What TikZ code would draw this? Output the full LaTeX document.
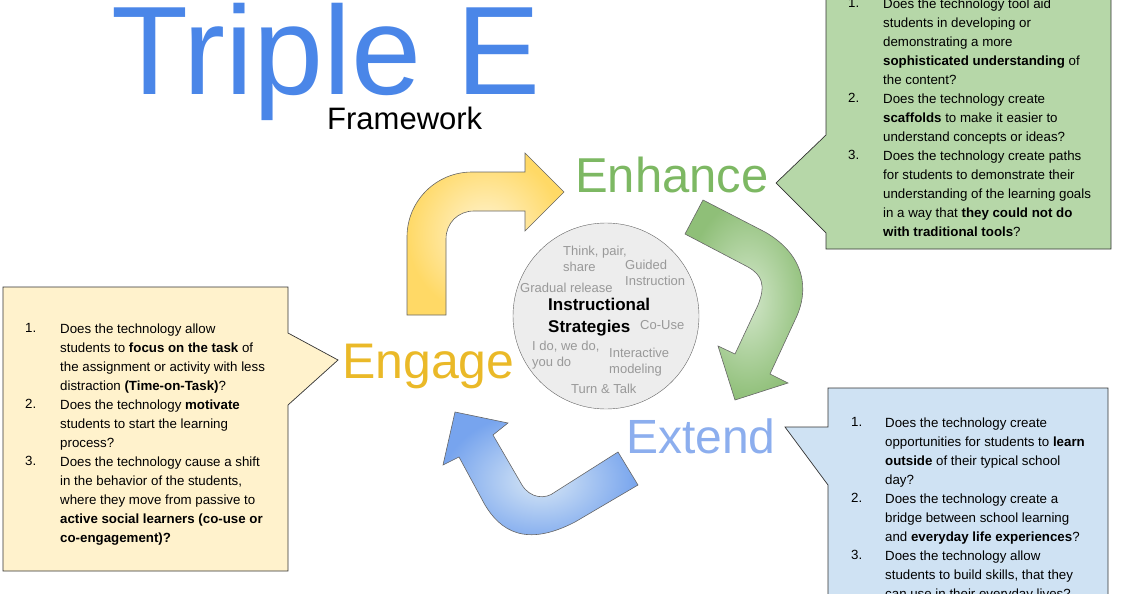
\documentclass[tikz,border=0pt]{standalone}
\usepackage{fontspec}
\setmainfont{Liberation Sans}
\begin{document}
\begin{tikzpicture}[x=1pt,y=-1pt,
  qtext/.style={anchor=north west,inner sep=0pt,align=left,font=\fontsize{13.3}{19}\selectfont},
  ctext/.style={anchor=west,inner sep=0pt,align=left,text=black!40,font=\fontsize{13}{16}\selectfont},
  callout/.style={draw=black!80,line width=0.7pt},
  bigarrow/.style={draw=black!60,line width=0.6pt},
  word/.style={inner sep=0pt,anchor=base west,font=\fontsize{50}{50}\selectfont}]
\definecolor{tblue}{HTML}{4A86E8}
\definecolor{gfill}{HTML}{B6D7A8}
\definecolor{yfill}{HTML}{FFF2CC}
\definecolor{bfill}{HTML}{CFE2F3}
\definecolor{genh}{HTML}{7DB863}
\definecolor{yeng}{HTML}{EAB928}
\definecolor{bext}{HTML}{8CAEEE}
\definecolor{yarr}{HTML}{FFD966}
\definecolor{garr}{HTML}{8FBF78}
\useasboundingbox (0,0) rectangle (1130,594);
\clip (0,0) rectangle (1130,594);
% title
\node[inner sep=0pt,anchor=base west,text=tblue,font=\fontsize{126}{126}\selectfont] (title) at (111,94) {Triple E};
\node[inner sep=0pt,anchor=base west,font=\fontsize{31}{31}\selectfont] (fw) at (327,129) {Framework};
% callouts
\path[callout,fill=gfill] (826,-5) -- (1111,-5) -- (1111,249) -- (826,249) -- (826,233) -- (776,183) -- (826,135) -- cycle;
\path[callout,fill=yfill] (3,287) -- (288,287) -- (288,333) -- (338,360) -- (288,405) -- (288,571) -- (3,571) -- cycle;
\path[callout,fill=bfill] (828,388) -- (1108,388) -- (1108,600) -- (828,600) -- (828,485) -- (785,427) -- (828,427) -- cycle;
% green text
\node[qtext] (gn) at (848,-1.5) {1.\\~\\~\\~\\~\\2.\\~\\~\\3.};
\node[qtext] (gt) at (883,-1.5) {Does the technology tool aid\\students in developing or\\demonstrating a more\\\textbf{sophisticated understanding} of\\the content?\\Does the technology create\\\textbf{scaffolds} to make it easier to\\understand concepts or ideas?\\Does the technology create paths\\for students to demonstrate their\\understanding of the learning goals\\in a way that \textbf{they could not do}\\\textbf{with traditional tools}?};
% yellow text
\node[qtext] (yn) at (25,323.5) {1.\\~\\~\\~\\2.\\~\\~\\3.};
\node[qtext] (yt) at (60,323.5) {Does the technology allow\\students to \textbf{focus on the task} of\\the assignment or activity with less\\distraction \textbf{(Time-on-Task)}?\\Does the technology \textbf{motivate}\\students to start the learning\\process?\\Does the technology cause a shift\\in the behavior of the students,\\where they move from passive to\\\textbf{active social learners (co-use or}\\\textbf{co-engagement)?}};
% blue text
\node[qtext] (bn) at (851,417.5) {1.\\~\\~\\~\\2.\\~\\~\\3.};
\node[qtext] (bt) at (885,417.5) {Does the technology create\\opportunities for students to \textbf{learn}\\\textbf{outside} of their typical school\\day?\\Does the technology create a\\bridge between school learning\\and \textbf{everyday life experiences}?\\Does the technology allow\\students to build skills, that they\\can use in their everyday lives?};
% arrows
\path[bigarrow,inner color=yfill!80,outer color=yarr] (407,315) -- (407,237) .. controls (407,201) and (436,172) .. (472,172) -- (525,172) -- (525,153) -- (564,192) -- (525,231) -- (525,211) -- (474,211) .. controls (458,211) and (446,223) .. (446,239) -- (446,315) -- cycle;
\path[bigarrow,inner color=gfill!60,outer color=garr] (703,200) -- (765,232) .. controls (805,255) and (810,290) .. (795,320) -- (770,374) -- (788,383) -- (735,400) -- (718,346) -- (735,354) -- (758,305) .. controls (766,285) and (762,275) .. (748,267) -- (685,234) -- cycle;
\path[bigarrow,inner color=bfill!80,outer color=tblue!75] (638,485) -- (575,522) .. controls (525,548) and (500,530) .. (485,505) -- (459,457) -- (443,465) -- (455,412) -- (508,423) -- (493,435) -- (522,485) .. controls (530,498) and (545,500) .. (555,492) -- (618,452) -- cycle;
% words
\node[word,text=genh,font=\fontsize{49}{49}\selectfont] (enh) at (575,192) {Enhance};
\node[word,text=yeng] (eng) at (342,378) {Engage};
\node[word,text=bext,font=\fontsize{48}{48}\selectfont] (ext) at (626,453) {Extend};
% circle
\node[circle,draw=black!60,fill=black!7,minimum size=186pt,inner sep=0pt] (c) at (606,316) {};
\node[ctext] (c1) at (563,259) {Think, pair,\\share};
\node[ctext] (c2) at (625,273) {Guided\\Instruction};
\node[ctext] (c3) at (520,288) {Gradual release};
\node[inner sep=0pt,align=left,anchor=west,font=\fontsize{17}{22}\bfseries\selectfont] (c4) at (548,317) {Instructional\\Strategies};
\node[ctext] (c5) at (640,325) {Co-Use};
\node[ctext] (c6) at (532,355) {I do, we do,\\you do};
\node[ctext] (c7) at (609,362) {Interactive\\modeling};
\node[ctext] (c8) at (571,389) {Turn \& Talk};
\end{tikzpicture}
\end{document}
